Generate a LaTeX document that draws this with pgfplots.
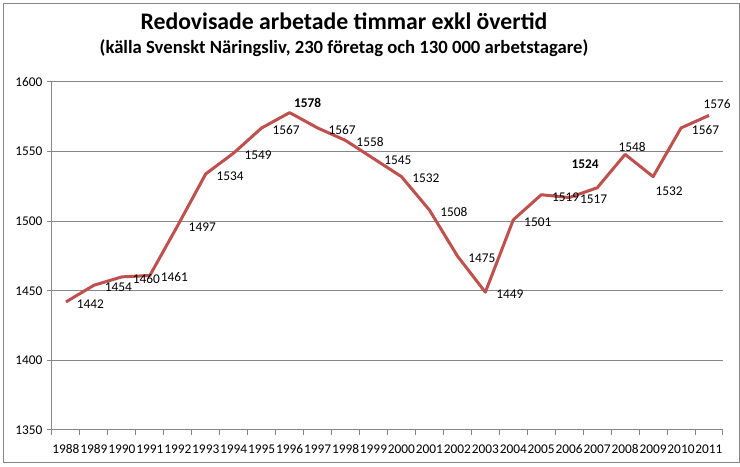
\documentclass[border=0pt]{standalone}
\usepackage{pgfplots}
\pgfplotsset{compat=1.18}
\usepackage{fontspec}
\setmainfont{Carlito}
\definecolor{xlred}{RGB}{192,80,77}
\definecolor{xlgrid}{RGB}{134,134,134}

\begin{document}
\begin{tikzpicture}
\useasboundingbox (0,0) rectangle (555pt,350.25pt);
\fill[white] (0,0) rectangle (555pt,350.25pt);
% chart area frame
\draw[xlgrid, line width=0.75pt] (2.25pt,3.25pt) rectangle (554.25pt,347.25pt);
% titles
\node[font=\bfseries\fontsize{17.8}{21}\selectfont, anchor=base] at (258pt,327.75pt)
  {Redovisade arbetade timmar exkl övertid};
\node[font=\bfseries\fontsize{14}{17}\selectfont, anchor=base] at (258pt,309.75pt)
  {(källa Svenskt Näringsliv, 230 företag och 130 000 arbetstagare)};

\begin{axis}[
  at={(39pt,27.75pt)}, anchor=south west,
  scale only axis, width=503.25pt, height=261pt,
  xmin=1987.5, xmax=2011.5, ymin=1350, ymax=1600,
  axis lines*=left,
  axis line style={xlgrid, line width=0.75pt},
  ymajorgrids,
  major grid style={xlgrid, line width=0.75pt},
  ytick={1350,1400,...,1600},
  xtick={1988,...,2011},
  minor xtick={1987.5,1988.5,...,2011.5},
  tick align=outside,
  major tick length=3.75pt, minor tick length=3.75pt,
  tick style={xlgrid, line width=0.75pt},
  major x tick style={draw=none},
  tick label style={font=\fontsize{10}{12}\selectfont},
  xticklabel style={yshift=-3.5pt},
  /pgf/number format/assume math mode=true,
  /pgf/number format/1000 sep={},
  clip=false,
]
\addplot[xlred, line width=2.25pt, line join=round, no marks] coordinates {
  (1988,1442) (1989,1454) (1990,1460) (1991,1461) (1992,1497) (1993,1534)
  (1994,1549) (1995,1567) (1996,1578) (1997,1567) (1998,1558) (1999,1545)
  (2000,1532) (2001,1508) (2002,1475) (2003,1449) (2004,1501) (2005,1519)
  (2006,1517) (2007,1524) (2008,1548) (2009,1532) (2010,1567) (2011,1576)
};
% data labels to the right of the points
\addplot[draw=none, no marks, nodes near coords,
  nodes near coords style={font=\fontsize{10}{12}\selectfont, text=black,
    anchor=west, inner sep=0pt, xshift=8pt, yshift=-1.5pt}] coordinates {
  (1988,1442) (1989,1454) (1990,1460) (1991,1461) (1992,1497) (1993,1534)
  (1994,1549) (1995,1567) (1997,1567) (1998,1558) (1999,1545)
  (2000,1532) (2001,1508) (2002,1475) (2003,1449) (2004,1501) (2005,1519)
  (2006,1517) (2010,1567)
};
% labels moved by hand
\addplot[draw=none, no marks, nodes near coords,
  nodes near coords style={font=\bfseries\fontsize{10}{12}\selectfont, text=black,
    anchor=center, inner sep=0pt, xshift=13.5pt, yshift=7.5pt}] coordinates {(1996,1578)};
\addplot[draw=none, no marks, nodes near coords,
  nodes near coords style={font=\bfseries\fontsize{10}{12}\selectfont, text=black,
    anchor=center, inner sep=0pt, xshift=-9pt, yshift=18pt}] coordinates {(2007,1524)};
\addplot[draw=none, no marks, nodes near coords,
  nodes near coords style={font=\fontsize{10}{12}\selectfont, text=black,
    anchor=center, inner sep=0pt, xshift=5.25pt, yshift=5.5pt}] coordinates {(2008,1548)};
\addplot[draw=none, no marks, nodes near coords,
  nodes near coords style={font=\fontsize{10}{12}\selectfont, text=black,
    anchor=center, inner sep=0pt, xshift=12pt, yshift=-11.25pt}] coordinates {(2009,1532)};
\addplot[draw=none, no marks, nodes near coords,
  nodes near coords style={font=\fontsize{10}{12}\selectfont, text=black,
    anchor=center, inner sep=0pt, xshift=6pt, yshift=8.25pt}] coordinates {(2011,1576)};
\end{axis}
\end{tikzpicture}
\end{document}
